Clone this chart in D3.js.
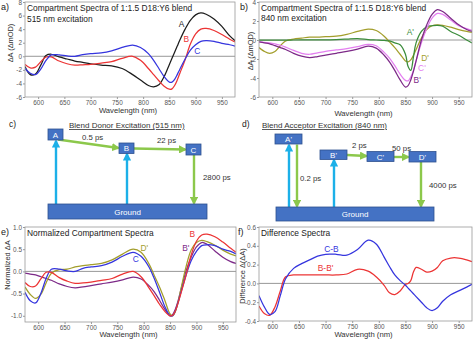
<!DOCTYPE html>
<html>
<head>
<meta charset="utf-8">
<script src="https://cdn.jsdelivr.net/npm/d3@7"></script>
<style>
  body { margin: 0; background: #fff; }
  svg { display: block; font-family: Arial, "Liberation Sans", sans-serif; }
</style>
</head>
<body>
<svg id="fig" width="474" height="339"></svg>
<script>
// shared wavelength grid (nm)
var wl = [575, 585, 595, 605, 615, 625, 640, 655, 670, 685, 700, 720, 740, 760, 780, 795, 810,
          820, 830, 840, 850, 855, 860, 865, 870, 880, 890, 900, 910, 920, 935, 950, 965, 975];
var wlTicks = [600, 650, 700, 750, 800, 850, 900, 950];

// a) 515 nm excitation, mOD
var specA = [-1.5, -2.7, -2.6, -1.3, 0.1, 0.3, -0.1, -0.4, -0.7, -0.9, -1.1, -1.3, -1.4, -1.8, -2.7, -3.5, -4.3,
             -4.5, -4.2, -3.0, -1.2, -0.3, 0.6, 1.5, 2.4, 4.0, 5.3, 6.1, 6.4, 6.2, 5.5, 4.4, 3.0, 2.3];
var specB = [-1.2, -1.7, -1.6, -0.8, -0.1, -0.1, -0.7, -1.1, -1.3, -1.25, -1.2, -1.0, -0.8, -0.3, 0.0, -0.6, -1.8,
             -2.7, -3.6, -4.4, -4.85, -4.8, -4.3, -3.5, -2.5, -0.5, 1.8, 3.3, 4.0, 4.1, 3.8, 3.2, 2.5, 2.1];
var specC = [-1.8, -2.5, -2.7, -1.9, -0.6, 0.2, 0.2, 0.05, 0.0, 0.25, 0.4, 0.5, 0.8, 1.3, 1.65, 1.3, 0.4,
             -0.6, -1.8, -3.0, -3.8, -3.8, -3.4, -2.7, -1.9, -0.4, 0.9, 1.7, 2.2, 2.3, 2.2, 1.9, 1.7, 1.5];
var ticksA = [-6, -4, -2, 0, 2, 4, 6, 8];

// b) 840 nm excitation, mOD
var specA2 = [0.0, 0.0, 0.0, 0.0, 0.0, 0.0, 0.0, 0.01, 0.02, 0.02, 0.02, 0.05, 0.1, 0.15, 0.05, 0.0, -0.05,
              -0.1, -0.3, -0.5, -1.5, -2.8, -3.2, -1.8, -0.3, 0.9, 1.4, 1.5, 1.55, 1.45, 0.9, 0.5, 0.0, -0.3];
var specB2 = [-0.2, -0.3, -0.4, -0.6, -0.8, -1.0, -1.4, -1.7, -1.85, -1.75, -1.6, -1.4, -1.2, -0.95, -0.65, -0.85, -1.6,
              -2.3, -3.2, -4.2, -4.95, -4.8, -4.2, -3.3, -2.2, 0.0, 1.6, 2.7, 3.2, 3.0, 2.3, 1.6, 1.1, 0.9];
var specC2 = [-0.2, -0.25, -0.3, -0.4, -0.55, -0.75, -1.1, -1.4, -1.5, -1.35, -1.2, -1.05, -0.9, -0.7, -0.45, -0.6, -1.3,
              -1.9, -2.7, -3.6, -4.25, -4.3, -3.9, -3.2, -2.2, -0.3, 1.2, 2.3, 2.8, 2.7, 2.1, 1.5, 1.2, 1.0];
var specD2 = [-0.8, -1.2, -1.4, -1.2, -0.6, -0.1, 0.1, 0.2, 0.3, 0.3, 0.35, 0.4, 0.6, 0.9, 1.15, 1.0, 0.4,
              -0.2, -0.8, -1.5, -2.2, -2.3, -2.1, -1.6, -1.0, 0.2, 1.1, 1.5, 1.6, 1.55, 1.35, 1.1, 0.9, 0.8];
var ticksB = [-6, -4, -2, 0, 2, 4];

// e) normalized spectra
var normB = [-0.25, -0.34, -0.33, -0.17, -0.02, -0.02, -0.14, -0.22, -0.27, -0.26, -0.24, -0.2, -0.16, -0.06, 0.0, -0.12, -0.37,
             -0.55, -0.74, -0.9, -1.0, -0.99, -0.89, -0.72, -0.52, -0.1, 0.37, 0.68, 0.82, 0.84, 0.78, 0.66, 0.52, 0.43];
var normC = [-0.47, -0.66, -0.71, -0.5, -0.16, 0.05, 0.05, 0.01, 0.0, 0.07, 0.1, 0.13, 0.21, 0.34, 0.43, 0.34, 0.1,
             -0.16, -0.47, -0.79, -1.0, -1.0, -0.89, -0.71, -0.5, -0.1, 0.24, 0.45, 0.58, 0.6, 0.58, 0.5, 0.45, 0.39];
var normD2 = [-0.35, -0.52, -0.61, -0.52, -0.26, -0.04, 0.04, 0.05, 0.1, 0.13, 0.15, 0.18, 0.26, 0.39, 0.5, 0.43, 0.17,
              -0.09, -0.35, -0.65, -0.96, -1.0, -0.91, -0.7, -0.43, 0.09, 0.48, 0.65, 0.7, 0.67, 0.59, 0.48, 0.39, 0.35];
var normB2 = [-0.04, -0.06, -0.08, -0.12, -0.16, -0.2, -0.28, -0.34, -0.37, -0.35, -0.32, -0.28, -0.24, -0.19, -0.13, -0.17, -0.32,
              -0.46, -0.65, -0.85, -1.0, -0.97, -0.85, -0.67, -0.44, 0.0, 0.32, 0.55, 0.65, 0.61, 0.46, 0.32, 0.22, 0.18];
var ticksE = [-1.0, -0.5, 0.0, 0.5, 1.0];

// f) difference spectra
var diffCB = [-0.13, -0.25, -0.33, -0.3, -0.13, 0.05, 0.16, 0.21, 0.25, 0.29, 0.31, 0.31, 0.3, 0.36, 0.46, 0.42, 0.28,
              0.18, 0.09, 0.03, -0.02, -0.05, -0.08, -0.11, -0.14, -0.2, -0.26, -0.29, -0.26, -0.19, -0.12, -0.08, -0.04, -0.01];
var diffBB2 = [-0.24, -0.32, -0.34, -0.25, -0.08, 0.07, 0.09, 0.09, 0.09, 0.09, 0.09, 0.09, 0.1, 0.15, 0.13, 0.07, -0.02,
               -0.1, -0.12, -0.08, -0.01, 0.0, 0.03, 0.12, 0.17, 0.15, 0.12, 0.13, 0.17, 0.24, 0.27, 0.27, 0.25, 0.23];
var ticksF = [-0.4, -0.2, 0.0, 0.2, 0.4, 0.6];

// kinetic schemes: state labels and lifetimes
var donorStates = ["A", "B", "C"];
var donorTimes = ["0.5 ps", "22 ps", "2800 ps"];
var acceptorStates = ["A'", "B'", "C'", "D'"];
var acceptorTimes = ["0.2 ps", "2 ps", "50 ps", "4000 ps"];

var col = {
  black: "#1c1c1c", red: "#ec3434", blue: "#3535de", green: "#3b8c3b",
  olive: "#a39e2c", pink: "#e47ff0", purple: "#7d2a88",
  box: "#4472c4", boxEdge: "#2f528f", cyan: "#1cb0e8", lime: "#8cc84b"
};

var svg = d3.select("#fig");
var defs = svg.append("defs");
var clipCount = 0;

function spectrum(cfg) {
  var g = svg.append("g");
  var x = d3.scaleLinear().domain([575, 975]).range([cfg.left, cfg.right]);
  var y = d3.scaleLinear().domain(cfg.yDomain).range([cfg.bottom, cfg.top]);

  var id = "clip" + (clipCount++);
  defs.append("clipPath").attr("id", id).append("rect")
    .attr("x", cfg.left).attr("y", cfg.top)
    .attr("width", cfg.right - cfg.left).attr("height", cfg.bottom - cfg.top);

  var plot = g.append("g").attr("clip-path", "url(#" + id + ")");
  plot.append("line")
    .attr("x1", cfg.left).attr("x2", cfg.right)
    .attr("y1", y(0)).attr("y2", y(0))
    .attr("stroke", "#8c8c8c").attr("stroke-width", 0.9);

  var line = d3.line()
    .x(function (d, i) { return x(wl[i]); })
    .y(function (d) { return y(d); })
    .curve(d3.curveCatmullRom);

  cfg.series.forEach(function (s) {
    plot.append("path")
      .attr("d", line(s.values))
      .attr("fill", "none")
      .attr("stroke", s.color)
      .attr("stroke-width", 1.25);
  });

  g.append("rect")
    .attr("x", cfg.left).attr("y", cfg.top)
    .attr("width", cfg.right - cfg.left).attr("height", cfg.bottom - cfg.top)
    .attr("fill", "none").attr("stroke", "#9a9a9a").attr("stroke-width", 0.8);

  var xAxis = d3.axisBottom(x).tickValues(wlTicks).tickSize(2).tickPadding(1)
    .tickFormat(function (d) { return String(d); });
  var yAxis = d3.axisLeft(y).tickValues(cfg.yTicks).tickSize(2).tickPadding(1)
    .tickFormat(cfg.yFormat);

  [g.append("g").attr("transform", "translate(0," + cfg.bottom + ")").call(xAxis),
   g.append("g").attr("transform", "translate(" + cfg.left + ",0)").call(yAxis)]
    .forEach(function (ax) {
      ax.select(".domain").remove();
      ax.selectAll("line").attr("stroke", "#9a9a9a");
      ax.selectAll("text").attr("fill", "#555").style("font-size", "6.4px").style("font-family", null);
    });

  g.append("text")
    .attr("x", (cfg.left + cfg.right) / 2 - 2).attr("y", cfg.xTitleY)
    .attr("text-anchor", "middle").attr("fill", "#333").style("font-size", "7.7px")
    .text("Wavelength (nm)");

  g.append("text")
    .attr("transform", "translate(" + cfg.yTitleX + "," + cfg.yTitleY + ") rotate(-90)")
    .attr("text-anchor", "middle").attr("dominant-baseline", "central")
    .attr("fill", "#333").style("font-size", "7.4px")
    .text(cfg.yTitle);

  g.append("text")
    .attr("x", cfg.letterX).attr("y", cfg.top + 8)
    .attr("fill", "#222").style("font-size", "9px")
    .text(cfg.letter);

  cfg.title.forEach(function (t, i) {
    g.append("text")
      .attr("x", cfg.left + 2).attr("y", cfg.top + 8.5 + i * cfg.titleStep)
      .attr("fill", "#222").style("font-size", "8.4px")
      .text(t);
  });

  cfg.labels.forEach(function (l) {
    g.append("text")
      .attr("x", x(l.at[0])).attr("y", y(l.at[1]))
      .attr("text-anchor", "middle").attr("dominant-baseline", "central")
      .attr("fill", l.color).style("font-size", "8.4px")
      .text(l.text);
  });
}

spectrum({
  left: 25, right: 235, top: 2, bottom: 97, yDomain: [-6, 8], yTicks: ticksA,
  yFormat: function (d) { return String(d); },
  xTitleY: 113, yTitle: "\u0394A (\u0394mOD)", yTitleX: 10, yTitleY: 43,
  letter: "a)", letterX: 1,
  title: ["Compartment Spectra of 1:1.5 D18:Y6 blend", "515 nm excitation"], titleStep: 11.5,
  series: [
    { values: specA, color: col.black },
    { values: specB, color: col.red },
    { values: specC, color: col.blue }
  ],
  labels: [
    { text: "A", at: [873, 4.76], color: col.black },
    { text: "B", at: [882, 2.55], color: col.red },
    { text: "C", at: [903, 0.78], color: col.blue }
  ]
});

spectrum({
  left: 259, right: 472, top: 2, bottom: 97, yDomain: [-6, 4], yTicks: ticksB,
  yFormat: function (d) { return String(d); },
  xTitleY: 116, yTitle: "\u0394A (\u0394mOD)", yTitleX: 250.5, yTitleY: 51,
  letter: "b)", letterX: 240,
  title: ["Compartment Spectra of 1:1.5 D18:Y6 blend", "840 nm excitation"], titleStep: 10.5,
  series: [
    { values: specD2, color: col.olive },
    { values: specA2, color: col.green },
    { values: specC2, color: col.pink },
    { values: specB2, color: col.purple }
  ],
  labels: [
    { text: "A'", at: [859, 0.84], color: col.green },
    { text: "D'", at: [887, -1.87], color: col.olive },
    { text: "C'", at: [881, -2.92], color: col.pink },
    { text: "B'", at: [872, -4.21], color: col.purple }
  ]
});

spectrum({
  left: 25, right: 236, top: 227, bottom: 322, yDomain: [-1.14, 1.0], yTicks: ticksE,
  yFormat: function (d) { return d.toFixed(1); },
  xTitleY: 337, yTitle: "Normalized \u0394A", yTitleX: 7.5, yTitleY: 265,
  letter: "e)", letterX: 1,
  title: ["Normalized Compartment Spectra"], titleStep: 0,
  series: [
    { values: normB2, color: col.purple },
    { values: normD2, color: col.olive },
    { values: normC, color: col.blue },
    { values: normB, color: col.red }
  ],
  labels: [
    { text: "B", at: [892, 0.84], color: col.red },
    { text: "D'", at: [801, 0.53], color: col.olive },
    { text: "B'", at: [880, 0.53], color: col.purple },
    { text: "C", at: [785, 0.28], color: col.blue }
  ]
});

spectrum({
  left: 259, right: 472, top: 227, bottom: 321, yDomain: [-0.4, 0.6], yTicks: ticksF,
  yFormat: function (d) { return d.toFixed(1); },
  xTitleY: 337, yTitle: "Difference \u0394(\u0394A)", yTitleX: 242, yTitleY: 276,
  letter: "f)", letterX: 238,
  title: ["Difference Spectra"], titleStep: 0,
  series: [
    { values: diffBB2, color: col.red },
    { values: diffCB, color: col.blue }
  ],
  labels: [
    { text: "C-B", at: [711, 0.366], color: col.blue },
    { text: "B-B'", at: [700, 0.164], color: col.red }
  ]
});

// arrowheads
[["headLime", col.lime], ["headCyan", col.cyan]].forEach(function (m) {
  defs.append("marker").attr("id", m[0])
    .attr("viewBox", "0 0 10 10").attr("refX", 8).attr("refY", 5)
    .attr("markerWidth", 3.4).attr("markerHeight", 3.4).attr("orient", "auto")
    .append("path").attr("d", "M0,0L10,5L0,10Z").attr("fill", m[1]);
});

function scheme(cfg) {
  var g = svg.append("g");
  g.append("text").attr("x", cfg.letterX).attr("y", 127)
    .attr("fill", "#222").style("font-size", "8.5px").text(cfg.letter);
  g.append("text").attr("x", cfg.titleX).attr("y", 128)
    .attr("fill", "#333").style("font-size", "8px")
    .attr("text-decoration", "underline").text(cfg.title);

  function arrow(a, b, color) {
    g.append("line")
      .attr("x1", a[0]).attr("y1", a[1]).attr("x2", b[0]).attr("y2", b[1])
      .attr("stroke", color).attr("stroke-width", 2.4)
      .attr("marker-end", "url(#" + (color === col.lime ? "headLime" : "headCyan") + ")");
  }

  cfg.pumps.forEach(function (p) { arrow(p[0], p[1], col.cyan); });
  cfg.steps.forEach(function (s) {
    arrow(s.from, s.to, col.lime);
    g.append("text").attr("x", s.label[0]).attr("y", s.label[1])
      .attr("fill", "#333").style("font-size", "7.8px").text(s.text);
  });

  function box(b, txt) {
    g.append("rect").attr("x", b[0]).attr("y", b[1]).attr("width", b[2]).attr("height", b[3])
      .attr("fill", col.box).attr("stroke", col.boxEdge).attr("stroke-width", 0.8);
    g.append("text").attr("x", b[0] + b[2] / 2).attr("y", b[1] + b[3] / 2 + 0.5)
      .attr("text-anchor", "middle").attr("dominant-baseline", "central")
      .attr("fill", "#fff").style("font-size", "8px").text(txt);
  }
  cfg.boxes.forEach(function (b, i) { box(b, cfg.states[i]); });
  box(cfg.ground, "Ground");
}

scheme({
  letter: "c)", letterX: 9, titleX: 69, title: "Blend Donor Excitation (515 nm)",
  states: donorStates,
  boxes: [[48, 129, 15, 11], [119, 143, 15, 10.5], [186, 144, 15, 11]],
  ground: [48, 204, 159, 15],
  pumps: [[[56, 204], [56, 141]], [[127, 204], [127, 154]]],
  steps: [
    { from: [58, 139.5], to: [118.5, 148], text: donorTimes[0], label: [82, 140] },
    { from: [134, 148.5], to: [185.5, 149.5], text: donorTimes[1], label: [157, 143] },
    { from: [194, 155], to: [194, 203.5], text: donorTimes[2], label: [203, 179.5] }
  ]
});

scheme({
  letter: "d)", letterX: 242, titleX: 262, title: "Blend Acceptor Excitation (840 nm)",
  states: acceptorStates,
  boxes: [[275, 134, 27, 10], [320, 150, 27, 9.5], [367, 151.5, 27, 10], [409, 151.5, 27, 10.5]],
  ground: [276, 207, 158, 14],
  pumps: [[[289, 207], [289, 145]], [[334, 207], [334, 160]]],
  steps: [
    { from: [297, 144.5], to: [297, 206.5], text: acceptorTimes[0], label: [300, 181] },
    { from: [347, 155], to: [366.5, 156], text: acceptorTimes[1], label: [352, 148] },
    { from: [394, 157], to: [408.5, 157], text: acceptorTimes[2], label: [392, 151] },
    { from: [421, 162], to: [421, 206.5], text: acceptorTimes[3], label: [429, 188] }
  ]
});
</script>
</body>
</html>
